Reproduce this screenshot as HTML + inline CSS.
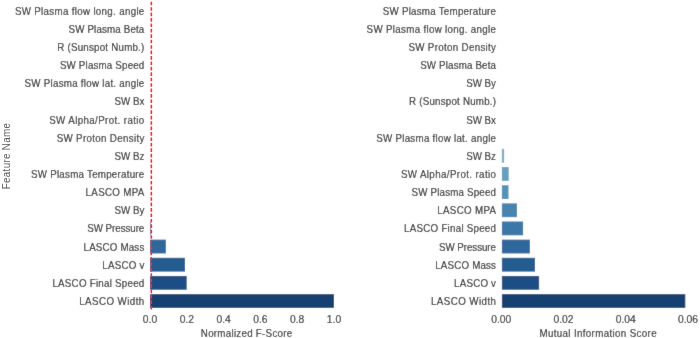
<!DOCTYPE html>
<html><head><meta charset="utf-8"><style>
html,body{margin:0;padding:0;background:#fff;}
svg{display:block;}
text{font-family:"Liberation Sans",Arial,sans-serif;fill:#111;stroke:#111;stroke-width:0.12px;font-size:10.3px;}
</style></head><body>
<svg width="700" height="338" viewBox="0 0 700 338">
<defs><filter id="soft" filterUnits="userSpaceOnUse" x="0" y="0" width="700" height="338"><feConvolveMatrix order="3" kernelMatrix="1 2 1 2 28 2 1 2 1" divisor="40" edgeMode="duplicate" preserveAlpha="false"/></filter></defs>
<rect x="0" y="0" width="700" height="338" fill="#fff"/>
<g filter="url(#soft)">
<rect x="0" y="0" width="700" height="338" fill="#fff"/>

<rect x="150.0" y="294.10" width="184" height="13.8" fill="#174071"/>
<rect x="150.0" y="275.95" width="36.7" height="13.8" fill="#1a4d84"/>
<rect x="150.0" y="257.80" width="35.0" height="13.8" fill="#225b91"/>
<rect x="150.0" y="239.65" width="15.9" height="13.8" fill="#2d689c"/>
<rect x="150.0" y="221.50" width="0.8" height="13.8" fill="#3b77a7"/>
<rect x="501.9" y="294.10" width="183.4" height="13.8" fill="#174071"/>
<rect x="501.9" y="275.95" width="37.2" height="13.8" fill="#1a4d84"/>
<rect x="501.9" y="257.80" width="33.1" height="13.8" fill="#225b91"/>
<rect x="501.9" y="239.65" width="28.0" height="13.8" fill="#2d689c"/>
<rect x="501.9" y="221.50" width="21.2" height="13.8" fill="#3b77a7"/>
<rect x="501.9" y="203.35" width="15.1" height="13.8" fill="#4884af"/>
<rect x="501.9" y="185.20" width="6.6" height="13.8" fill="#5791b8"/>
<rect x="501.9" y="167.05" width="6.8" height="13.8" fill="#679ec0"/>
<rect x="501.9" y="148.90" width="2.2" height="13.8" fill="#78aac8"/>
<text transform="translate(144.30 14.65) scale(0.95 1)" text-anchor="end" textLength="136.21" lengthAdjust="spacing">SW Plasma flow long. angle</text>
<text transform="translate(144.30 32.80) scale(0.95 1)" text-anchor="end" textLength="79.79" lengthAdjust="spacing">SW Plasma Beta</text>
<text transform="translate(144.30 50.95) scale(0.95 1)" text-anchor="end" textLength="91.58" lengthAdjust="spacing">R (Sunspot Numb.)</text>
<text transform="translate(144.30 69.10) scale(0.95 1)" text-anchor="end" textLength="88.84" lengthAdjust="spacing">SW Plasma Speed</text>
<text transform="translate(144.30 87.25) scale(0.95 1)" text-anchor="end" textLength="126.11" lengthAdjust="spacing">SW Plasma flow lat. angle</text>
<text transform="translate(144.30 105.40) scale(0.95 1)" text-anchor="end" textLength="31.37" lengthAdjust="spacing">SW Bx</text>
<text transform="translate(144.30 123.55) scale(0.95 1)" text-anchor="end" textLength="100.11" lengthAdjust="spacing">SW Alpha/Prot. ratio</text>
<text transform="translate(144.30 141.70) scale(0.95 1)" text-anchor="end" textLength="92.21" lengthAdjust="spacing">SW Proton Density</text>
<text transform="translate(144.30 159.85) scale(0.95 1)" text-anchor="end" textLength="31.37" lengthAdjust="spacing">SW Bz</text>
<text transform="translate(144.30 178.00) scale(0.95 1)" text-anchor="end" textLength="119.26" lengthAdjust="spacing">SW Plasma Temperature</text>
<text transform="translate(144.30 196.15) scale(0.95 1)" text-anchor="end" textLength="61.79" lengthAdjust="spacing">LASCO MPA</text>
<text transform="translate(144.30 214.30) scale(0.95 1)" text-anchor="end" textLength="31.37" lengthAdjust="spacing">SW By</text>
<text transform="translate(144.30 232.45) scale(0.95 1)" text-anchor="end" textLength="60.00" lengthAdjust="spacing">SW Pressure</text>
<text transform="translate(144.30 250.60) scale(0.95 1)" text-anchor="end" textLength="64.00" lengthAdjust="spacing">LASCO Mass</text>
<text transform="translate(144.30 268.75) scale(0.95 1)" text-anchor="end" textLength="44.21" lengthAdjust="spacing">LASCO v</text>
<text transform="translate(144.30 286.90) scale(0.95 1)" text-anchor="end" textLength="96.74" lengthAdjust="spacing">LASCO Final Speed</text>
<text transform="translate(144.30 305.05) scale(0.95 1)" text-anchor="end" textLength="68.53" lengthAdjust="spacing">LASCO Width</text>
<text transform="translate(496.00 14.65) scale(0.95 1)" text-anchor="end" textLength="119.26" lengthAdjust="spacing">SW Plasma Temperature</text>
<text transform="translate(496.00 32.80) scale(0.95 1)" text-anchor="end" textLength="136.21" lengthAdjust="spacing">SW Plasma flow long. angle</text>
<text transform="translate(496.00 50.95) scale(0.95 1)" text-anchor="end" textLength="92.21" lengthAdjust="spacing">SW Proton Density</text>
<text transform="translate(496.00 69.10) scale(0.95 1)" text-anchor="end" textLength="79.79" lengthAdjust="spacing">SW Plasma Beta</text>
<text transform="translate(496.00 87.25) scale(0.95 1)" text-anchor="end" textLength="31.37" lengthAdjust="spacing">SW By</text>
<text transform="translate(496.00 105.40) scale(0.95 1)" text-anchor="end" textLength="91.58" lengthAdjust="spacing">R (Sunspot Numb.)</text>
<text transform="translate(496.00 123.55) scale(0.95 1)" text-anchor="end" textLength="31.37" lengthAdjust="spacing">SW Bx</text>
<text transform="translate(496.00 141.70) scale(0.95 1)" text-anchor="end" textLength="126.11" lengthAdjust="spacing">SW Plasma flow lat. angle</text>
<text transform="translate(496.00 159.85) scale(0.95 1)" text-anchor="end" textLength="31.37" lengthAdjust="spacing">SW Bz</text>
<text transform="translate(496.00 178.00) scale(0.95 1)" text-anchor="end" textLength="100.11" lengthAdjust="spacing">SW Alpha/Prot. ratio</text>
<text transform="translate(496.00 196.15) scale(0.95 1)" text-anchor="end" textLength="88.84" lengthAdjust="spacing">SW Plasma Speed</text>
<text transform="translate(496.00 214.30) scale(0.95 1)" text-anchor="end" textLength="61.79" lengthAdjust="spacing">LASCO MPA</text>
<text transform="translate(496.00 232.45) scale(0.95 1)" text-anchor="end" textLength="96.74" lengthAdjust="spacing">LASCO Final Speed</text>
<text transform="translate(496.00 250.60) scale(0.95 1)" text-anchor="end" textLength="60.00" lengthAdjust="spacing">SW Pressure</text>
<text transform="translate(496.00 268.75) scale(0.95 1)" text-anchor="end" textLength="64.00" lengthAdjust="spacing">LASCO Mass</text>
<text transform="translate(496.00 286.90) scale(0.95 1)" text-anchor="end" textLength="44.21" lengthAdjust="spacing">LASCO v</text>
<text transform="translate(496.00 305.05) scale(0.95 1)" text-anchor="end" textLength="68.53" lengthAdjust="spacing">LASCO Width</text>
<text x="150.00" y="323.10" text-anchor="middle">0.0</text>
<text x="186.80" y="323.10" text-anchor="middle">0.2</text>
<text x="223.60" y="323.10" text-anchor="middle">0.4</text>
<text x="260.40" y="323.10" text-anchor="middle">0.6</text>
<text x="297.20" y="323.10" text-anchor="middle">0.8</text>
<text x="334.00" y="323.10" text-anchor="middle">1.0</text>
<text x="501.20" y="323.10" text-anchor="middle">0.00</text>
<text x="563.47" y="323.10" text-anchor="middle">0.02</text>
<text x="625.74" y="323.10" text-anchor="middle">0.04</text>
<text x="688.01" y="323.10" text-anchor="middle">0.06</text>
<text transform="translate(246.50 336.50) scale(0.95 1)" text-anchor="middle" textLength="96.21" lengthAdjust="spacing">Normalized F-Score</text>
<text transform="translate(598.00 336.50) scale(0.95 1)" text-anchor="middle" textLength="123.37" lengthAdjust="spacing">Mutual Information Score</text>
</g>
<line x1="151.35" y1="1.7" x2="151.35" y2="309.8" stroke="#f5303a" stroke-width="1.6" stroke-dasharray="3.65 1.78"/>
<text transform="translate(9.60 156.20) rotate(-90) scale(0.95 1)" text-anchor="middle" textLength="69.58" lengthAdjust="spacing" style="stroke-width:0;fill:#5a5a5a">Feature Name</text>
</svg>
</body></html>
